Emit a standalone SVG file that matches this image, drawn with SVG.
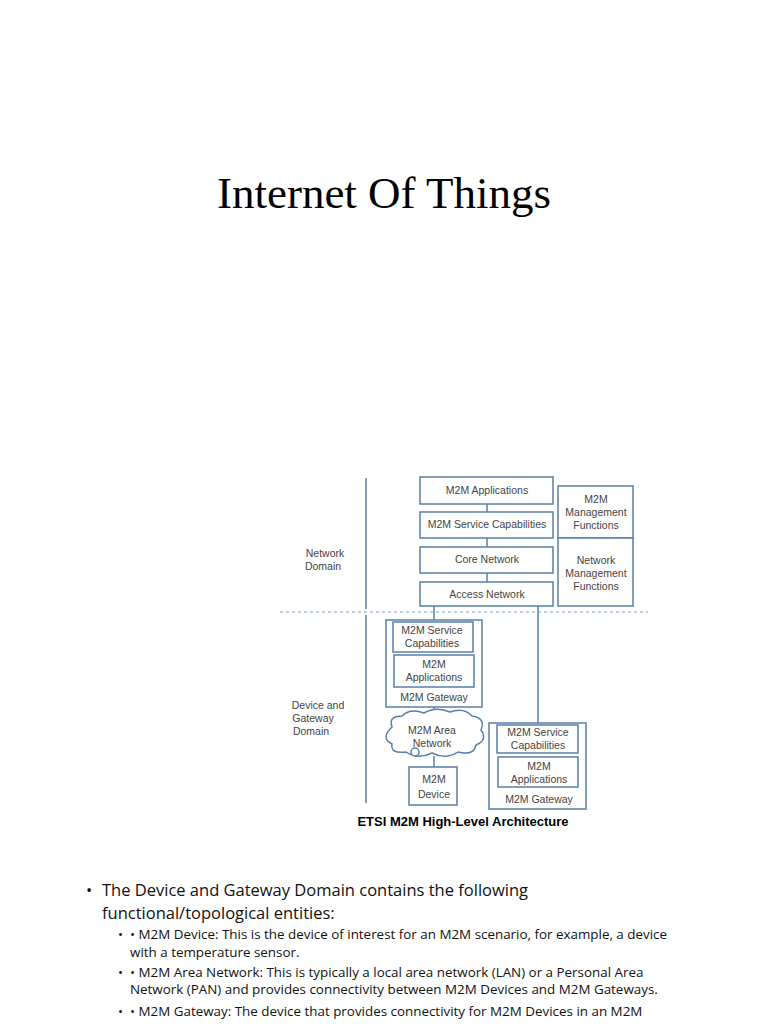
<svg xmlns="http://www.w3.org/2000/svg" width="768" height="1024" viewBox="0 0 768 1024">
<style>
.b{fill:#fff;stroke:#5a7fa8;stroke-width:1.5}
.t{font-family:"Liberation Sans",Arial,sans-serif;font-size:10.5px;fill:#444;text-anchor:middle}
.c{stroke:#5a7fa8;stroke-width:1.5;fill:none}
.p{font-family:"Open Sans","Liberation Sans",sans-serif;fill:#111}
</style>
<rect width="768" height="1024" fill="#fff"/>
<text x="384" y="208" text-anchor="middle" font-family="Liberation Serif,serif" font-size="45" fill="#000">Internet Of Things</text>
<g id="connectors">
<line class="c" x1="366" y1="478" x2="366" y2="609"/>
<line class="c" x1="366" y1="615" x2="366" y2="803"/>
<line x1="280" y1="612" x2="648" y2="612" stroke="#7fa4c8" stroke-width="1" stroke-dasharray="3,3"/>
<line class="c" x1="487" y1="504" x2="487" y2="582"/>
<line class="c" x1="434" y1="606" x2="434" y2="620"/>
<line class="c" x1="434" y1="707" x2="434" y2="718"/>
<line class="c" x1="434" y1="756" x2="434" y2="767"/>
<line class="c" x1="538" y1="606" x2="538" y2="723"/>
</g>
<text x="325" y="557" class="t" style="text-anchor:middle">Network</text>
<text x="323" y="570" class="t">Domain</text>
<text x="318" y="709" class="t">Device and</text>
<text x="313" y="722" class="t">Gateway</text>
<text x="311" y="735" class="t">Domain</text>
<g id="m2m-apps"><rect class="b" x="420" y="477" width="133" height="27"/><text class="t" x="487" y="494">M2M Applications</text></g>
<g id="m2m-sc"><rect class="b" x="420" y="512" width="133" height="26"/><text class="t" x="487" y="528">M2M Service Capabilities</text></g>
<g id="core"><rect class="b" x="420" y="547" width="133" height="26"/><text class="t" x="487" y="563">Core Network</text></g>
<g id="access"><rect class="b" x="420" y="582" width="133" height="24"/><text class="t" x="487" y="598">Access Network</text></g>
<g id="m2m-mgmt"><rect class="b" x="558" y="486" width="75" height="52"/><text class="t" x="596" y="503">M2M</text><text class="t" x="596" y="516">Management</text><text class="t" x="596" y="529">Functions</text></g>
<g id="net-mgmt"><rect class="b" x="558" y="538" width="75" height="68"/><text class="t" x="596" y="564">Network</text><text class="t" x="596" y="577">Management</text><text class="t" x="596" y="590">Functions</text></g>
<g id="gateway1"><rect class="b" x="386" y="620" width="96" height="87"/>
<rect class="b" x="393" y="622" width="80" height="30"/><text class="t" x="432" y="634">M2M Service</text><text class="t" x="432" y="647">Capabilities</text>
<rect class="b" x="394" y="655" width="80" height="32"/><text class="t" x="434" y="668">M2M</text><text class="t" x="434" y="681">Applications</text>
<text class="t" x="434" y="701">M2M Gateway</text></g>
<g id="area-network">
<path class="b" d="M392,727 Q388,716 402,716 Q410,708 424,713 Q436,706 450,712 Q464,707 472,716 Q486,718 481,730 Q488,740 476,745 Q474,756 458,752 Q446,760 432,753 Q418,760 406,752 Q390,754 392,744 Q380,738 392,727 Z"/>
<circle class="b" cx="415" cy="752" r="4"/>
<text class="t" x="432" y="734">M2M Area</text><text class="t" x="432" y="747">Network</text></g>
<g id="device"><rect class="b" x="409" y="767" width="48" height="38"/><text class="t" x="434" y="783">M2M</text><text class="t" x="434" y="798">Device</text></g>
<g id="gateway2"><rect class="b" x="489" y="723" width="97" height="86"/>
<rect class="b" x="497" y="725" width="81" height="28"/><text class="t" x="538" y="736">M2M Service</text><text class="t" x="538" y="749">Capabilities</text>
<rect class="b" x="498" y="757" width="80" height="30"/><text class="t" x="539" y="770">M2M</text><text class="t" x="539" y="783">Applications</text>
<text class="t" x="539" y="803">M2M Gateway</text></g>
<text x="463" y="826" text-anchor="middle" font-family="Liberation Sans,sans-serif" font-weight="bold" font-size="13" fill="#000">ETSI M2M High-Level Architecture</text>
<g class="p" font-size="16.5">
<text x="86" y="896">•</text>
<text x="102" y="896">The Device and Gateway Domain contains the following</text>
<text x="102" y="919">functional/topological entities:</text>
</g>
<g class="p" font-size="13.4">
<text x="118" y="939">•</text><text x="130" y="939">• M2M Device: This is the device of interest for an M2M scenario, for example, a device</text>
<text x="130" y="957">with a temperature sensor.</text>
<text x="118" y="977">•</text><text x="130" y="977">• M2M Area Network: This is typically a local area network (LAN) or a Personal Area</text>
<text x="130" y="994">Network (PAN) and provides connectivity between M2M Devices and M2M Gateways.</text>
<text x="118" y="1016">•</text><text x="130" y="1016">• M2M Gateway: The device that provides connectivity for M2M Devices in an M2M</text>
</g>
</svg>
